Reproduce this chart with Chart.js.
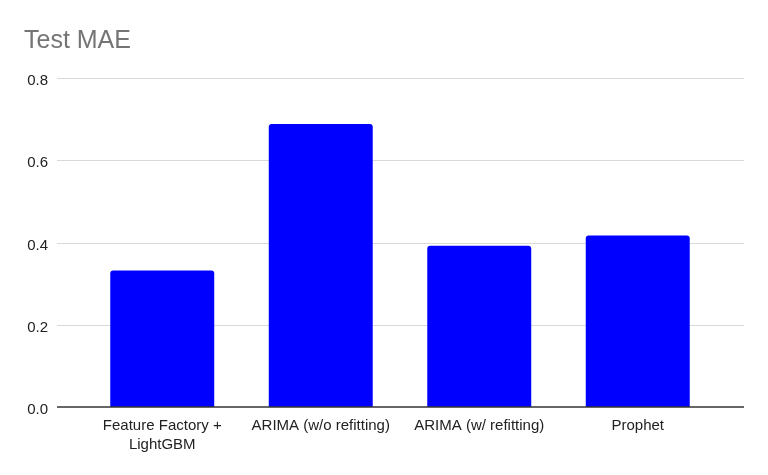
<!DOCTYPE html>
<html>
<head>
<meta charset="utf-8">
<script src="https://cdn.jsdelivr.net/npm/chart.js@4/dist/chart.umd.min.js"></script>
<style>
  html, body { margin: 0; padding: 0; background: #ffffff; }
  #wrap { width: 768px; height: 475px; position: relative; }
</style>
</head>
<body>
<div id="wrap"><canvas id="c"></canvas></div>
<script>
const chartTitle = "Test MAE";
const categories = [["Feature Factory +", "LightGBM"], "ARIMA (w/o refitting)", "ARIMA (w/ refitting)", "Prophet"];
const maeValues = [0.332, 0.688, 0.392, 0.417];
const yTicks = [0.0, 0.2, 0.4, 0.6, 0.8];

const FONT = "'Liberation Sans', Arial, sans-serif";

const extendedGrid = {
  id: 'extendedGrid',
  beforeDatasetsDraw(chart, args, opts) {
    const ctx = chart.ctx, y = chart.scales.y, a = chart.chartArea;
    ctx.save();
    ctx.strokeStyle = opts.color;
    ctx.lineWidth = 1;
    yTicks.forEach(v => {
      if (v === 0) return;
      const py = Math.round(y.getPixelForValue(v)) + 0.5;
      ctx.beginPath();
      ctx.moveTo(a.left - opts.extLeft, py);
      ctx.lineTo(a.right + opts.extRight, py);
      ctx.stroke();
    });
    ctx.restore();
  },
  afterDatasetsDraw(chart, args, opts) {
    const ctx = chart.ctx, y = chart.scales.y, a = chart.chartArea;
    ctx.save();
    ctx.strokeStyle = opts.baseColor;
    ctx.lineWidth = 1.4;
    const py = y.getPixelForValue(0);
    ctx.beginPath();
    ctx.moveTo(a.left - opts.extLeft, py);
    ctx.lineTo(a.right + opts.extRight, py);
    ctx.stroke();
    ctx.restore();
  }
};

new Chart(document.getElementById('c'), {
  type: 'bar',
  data: {
    labels: categories,
    datasets: [{
      label: chartTitle,
      data: maeValues,
      backgroundColor: '#0000ff',
      borderWidth: 0,
      borderRadius: 3,
      borderSkipped: 'start',
      categoryPercentage: 1.0,
      barPercentage: 0.656
    }]
  },
  options: {
    responsive: true,
    maintainAspectRatio: false,
    animation: false,
    layout: { padding: { left: 24, right: 51, top: 0, bottom: 0 } },
    plugins: {
      legend: { display: false },
      tooltip: { enabled: false },
      title: {
        display: true,
        text: chartTitle,
        align: 'start',
        color: '#757575',
        font: { family: FONT, size: 25, weight: 'normal', lineHeight: 1.2 },
        padding: { top: 26, bottom: 22 }
      },
      extendedGrid: { color: '#d9d9d9', baseColor: '#333333', extLeft: 26, extRight: 27 }
    },
    scales: {
      x: {
        grid: { display: false, drawTicks: false },
        border: { display: false },
        ticks: {
          color: '#222222',
          font: { family: FONT, size: 15, lineHeight: 1.22 },
          padding: 10,
          maxRotation: 0,
          autoSkip: false
        },
        afterFit(axis) { axis.height = 68; }
      },
      y: {
        min: 0,
        max: 0.8,
        grid: { display: false, drawTicks: false },
        border: { display: false },
        ticks: {
          stepSize: 0.2,
          color: '#222222',
          font: { family: FONT, size: 15 },
          padding: 35,
          labelOffset: 3,
          callback: (v) => Number(v).toFixed(1)
        },
        afterFit(axis) { axis.width = 59; }
      }
    }
  },
  plugins: [extendedGrid]
});
</script>
</body>
</html>
